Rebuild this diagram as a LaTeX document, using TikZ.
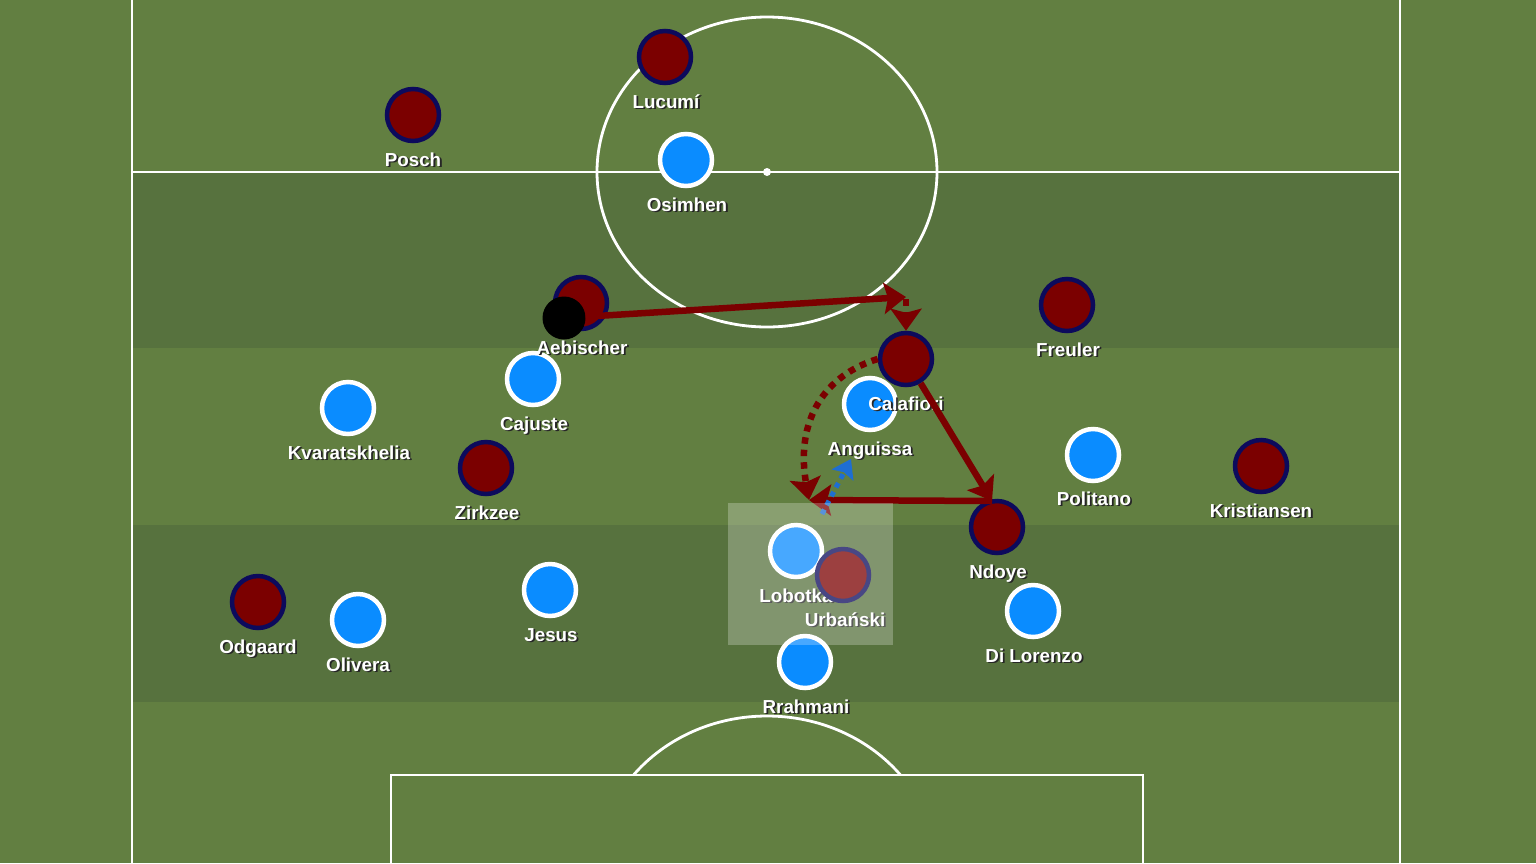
\documentclass[tikz,border=0pt]{standalone}
\usepackage{fontspec}
\setmainfont{Liberation Sans}
\usetikzlibrary{arrows.meta}
\definecolor{grass}{RGB}{98,127,65}
\definecolor{grassdark}{RGB}{87,114,62}
\definecolor{maroonp}{RGB}{123,0,0}
\definecolor{navyb}{RGB}{12,10,92}
\definecolor{pblue}{RGB}{10,140,255}
\definecolor{arrred}{RGB}{123,0,0}
\definecolor{arrblue}{RGB}{30,110,210}
\newcommand\playerlabel[4]{%
  \node[lblsh] at (#2+1.8,#3+1.8) {#4};
  \node[lbl] (#1) at (#2,#3) {#4};}
\begin{document}
\begin{tikzpicture}[x=1pt,y=-1pt,
  pitchline/.style={white, line width=2.8pt},
  redp/.style={circle, fill=maroonp, draw=navyb, line width=4.5pt, minimum size=52pt, inner sep=0pt},
  bluep/.style={circle, fill=pblue, draw=white, line width=4.5pt, minimum size=52pt, inner sep=0pt},
  lbl/.style={text=white, font=\bfseries\fontsize{18.8}{20}\selectfont, anchor=base, inner sep=0pt},
  lblsh/.style={lbl, text=black!85},
  arr/.style={draw=arrred, line width=6.5pt, -{Stealth[length=22pt,width=31pt,inset=4pt]}},
  dotarr/.style={arr, dash pattern=on 6.5pt off 6pt},
  bluearr/.style={draw=arrblue, line width=5pt, dash pattern=on 5pt off 5pt, -{Stealth[length=18pt,width=24pt,inset=3pt]}},
]
\useasboundingbox (0,0) rectangle (1536,863);
% grass
\fill[grass] (0,0) rectangle (1536,863);
\fill[grassdark] (133,172) rectangle (1399,348);
\fill[grassdark] (133,525) rectangle (1399,702);
% pitch lines
\draw[pitchline] (132,0) -- (132,863);
\draw[pitchline] (1400,0) -- (1400,863);
\draw[pitchline] (132,172) -- (1400,172);
\draw[pitchline] (767,172) ellipse [x radius=170pt, y radius=155pt];
\fill[white] (767,172) circle (4pt);
\draw[pitchline] (391,863) -- (391,775) -- (1143,775) -- (1143,863);
\begin{scope}
  \clip (0,0) rectangle (1536,775);
  \draw[pitchline] (767,871) ellipse [x radius=170pt, y radius=155pt];
\end{scope}
% blue players
\node[bluep] (osi) at (686,160) {};  \playerlabel{osil}{687}{211}{Osimhen}
\node[bluep] (caj) at (533,379) {};  \playerlabel{cajl}{534}{430}{Cajuste}
\node[bluep] (kva) at (348,408) {};  \playerlabel{kval}{349}{459}{Kvaratskhelia}
\node[bluep] (ang) at (870,404) {};  \playerlabel{angl}{870}{455}{Anguissa}
\node[bluep] (pol) at (1093,455) {}; \playerlabel{poll}{1094}{505}{Politano}
\node[bluep] (lob) at (796,551) {};  \playerlabel{lobl}{796}{602}{Lobotka}
\node[bluep] (jes) at (550,590) {};  \playerlabel{jesl}{551}{641}{Jesus}
\node[bluep] (oli) at (358,620) {};  \playerlabel{olil}{358}{671}{Olivera}
\node[bluep] (dil) at (1033,611) {}; \playerlabel{dill}{1034}{662}{Di Lorenzo}
\node[bluep] (rra) at (805,662) {};  \playerlabel{rral}{806}{713}{Rrahmani}
% red players
\node[redp] (luc) at (665,57) {};    \playerlabel{lucl}{666}{108}{Lucumí}
\node[redp] (pos) at (413,115) {};   \playerlabel{posl}{413}{166}{Posch}
\node[redp] (aeb) at (581,303) {};   \playerlabel{aebl}{582}{354}{Aebischer}
\node[redp] (cal) at (906,359) {};   \playerlabel{call}{906}{410}{Calafiori}
\node[redp] (fre) at (1067,305) {};  \playerlabel{frel}{1068}{356}{Freuler}
\node[redp] (zir) at (486,468) {};   \playerlabel{zirl}{487}{519}{Zirkzee}
\node[redp] (kri) at (1261,466) {};  \playerlabel{kril}{1261}{517}{Kristiansen}
\node[redp] (ndo) at (997,527) {};   \playerlabel{ndol}{998}{578}{Ndoye}
\node[redp] (odg) at (258,602) {};   \playerlabel{odgl}{258}{653}{Odgaard}
\node[redp] (urb) at (843,575) {};   \playerlabel{urbl}{845}{626}{Urbański}
% ball
\node[circle, fill=black, minimum size=43pt, inner sep=0pt] (ball) at (564,318) {};
% movement arrows
\coordinate (run1) at (906,297);
\coordinate (t3) at (992,501);
\coordinate (p4) at (809,500);
\coordinate (b1) at (822,514);
\coordinate (b2) at (851,459);
\draw[arr] (ball) -- (run1);
\draw[dotarr] (906,299) -- (cal.north);
\draw[arr] (cal) -- (t3);
\draw[arr] (t3) -- (p4);
\draw[dotarr] (cal.west) .. controls (825,375) and (795,420) .. (p4);
\draw[bluearr] (b1) -- (b2);
% highlight box
\fill[white, opacity=0.25] (728,503) rectangle (893,645);
\end{tikzpicture}
\end{document}
